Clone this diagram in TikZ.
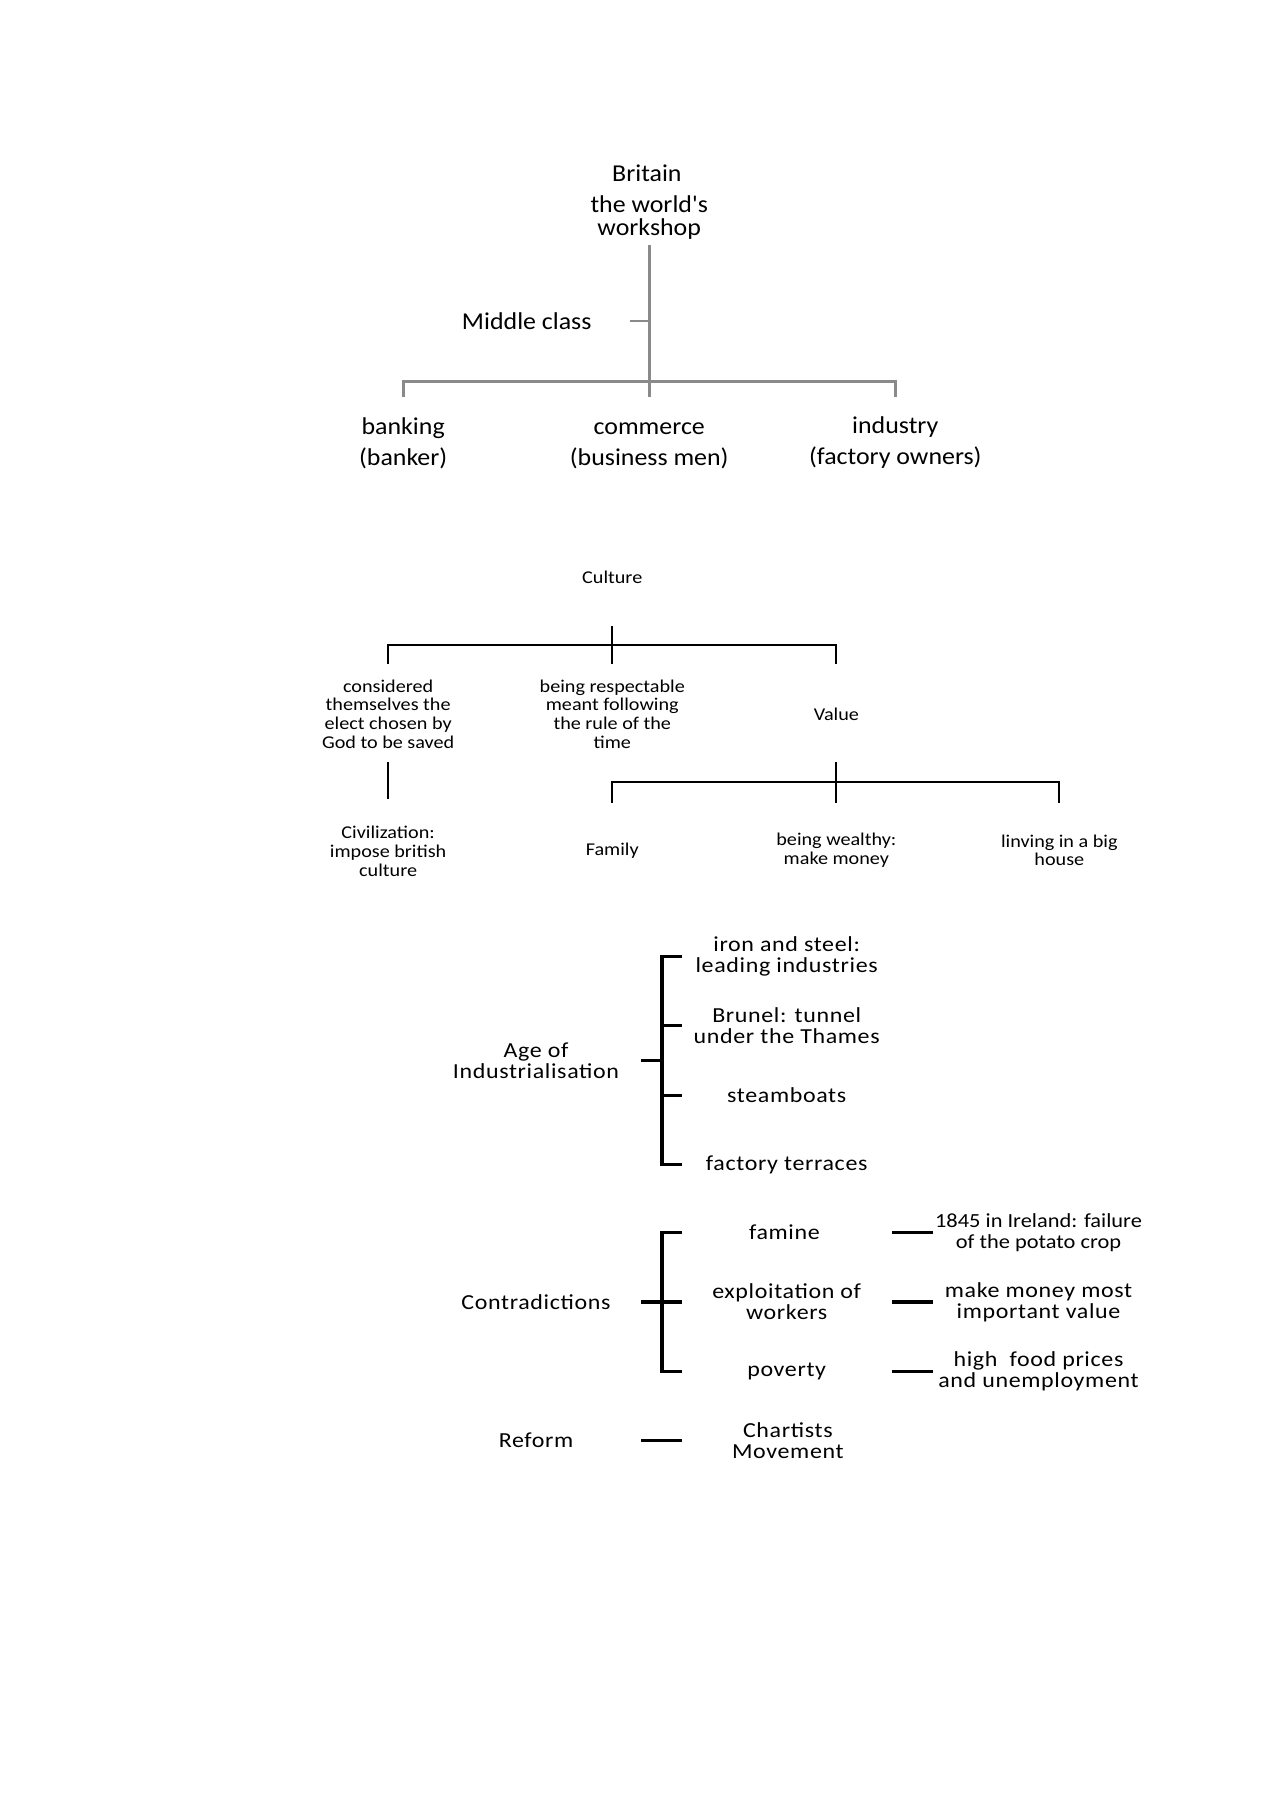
\documentclass[tikz,border=0pt]{standalone}
\usepackage{fontspec}
\setmainfont{Carlito}
\newfontfamily\fontA{Carlito}[FakeStretch=1.07]
\newfontfamily\fontB{Carlito}[FakeStretch=1.12]
\newfontfamily\fontC{Carlito}[FakeStretch=1.12,LetterSpace=3]
\definecolor{gline}{RGB}{138,138,138}
\begin{document}
\begin{tikzpicture}[x=0.57746pt,y=-0.57746pt,
  tA/.style={font=\fontA\fontsize{12.1}{11.6}\selectfont,align=center,inner sep=0pt},
  tB/.style={font=\fontB\fontsize{9}{9.3}\selectfont,align=center,inner sep=0pt},
  tC/.style={font=\fontC\fontsize{10.7}{10.4}\selectfont,align=center,inner sep=0pt},
  tD/.style={font=\fontB\fontsize{10}{10.4}\selectfont,align=center,inner sep=0pt},
  grayline/.style={draw=gline,line width=1.35pt},
  thinline/.style={draw=black,line width=1pt},
  thickline/.style={draw=black,line width=1.6pt}]
\fill[white] (0,0) rectangle (1108.3,1567.7);
\useasboundingbox (0,0) rectangle (1108.3,1567.7);

% ---------- Section 1 ----------
\node[tA] (britain) at (560,150) {Britain};
\node[tA] (world) at (562,188) {the world's\\workshop};
\node[tA] (middle) at (456,278) {Middle class};
\node[tA] (banking) at (349,383) {\vphantom{(}banking\\[4pt](banker)};
\node[tA] (commerce) at (562,383) {\vphantom{(}commerce\\[4pt](business men)};
\node[tA] (industry) at (775,383) {\vphantom{(}industry\\[4pt](factory owners)};
\coordinate (s1top) at (562,212);
\coordinate (s1mid) at (562,278);
\coordinate (s1join) at (562,330);
\draw[grayline] (s1top) -- (s1join) -- (562,344);
\draw[grayline] (545,278) -- (s1mid);
\draw[grayline] (349,344) -- (349,330) -- (775,330) -- (775,344);

% ---------- Section 2 ----------
\node[tB] (culture) at (530,500) {Culture};
\node[tB] (elect) at (336,618) {considered\\themselves the\\elect chosen by\\God to be saved};
\node[tB] (respect) at (530,618) {being respectable\\meant following\\the rule of the\\time};
\node[tB] (value) at (724,618) {Value};
\node[tB] (civil) at (336,737) {Civilization:\\impose british\\culture};
\node[tB] (family) at (530,736) {Family};
\node[tB] (wealthy) at (724,736) {being wealthy:\\make money};
\node[tB] (house) at (917,736) {linving in a big\\house};
\coordinate (c2join) at (530,558);
\draw[thinline] (530,542) -- (c2join) -- (530,575);
\draw[thinline] (336,575) -- (336,558) -- (724,558) -- (724,575);
\draw[thinline] (336,660) -- (336,692);
\coordinate (v2join) at (724,677);
\draw[thinline] (724,660) -- (v2join) -- (724,695);
\draw[thinline] (530,695) -- (530,677) -- (917,677) -- (917,695);

% ---------- Section 3 ----------
\node[tC] (age) at (464,918) {Age of\\Industrialisation};
\node[tC] (iron) at (681,828) {iron and steel:\\leading industries};
\node[tC] (brunel) at (681,888) {Brunel: tunnel\\under the Thames};
\node[tC] (steam) at (681,948) {steamboats};
\node[tC] (terr) at (681,1008) {factory terraces};
\coordinate (a3) at (573,918);
\draw[thickline] (590,828) -- (573,828) -- (573,1008) -- (590,1008);
\draw[thickline] (573,888) -- (590,888);
\draw[thickline] (573,948) -- (590,948);
\draw[thickline] (555,918) -- (a3);

% ---------- Section 4 ----------
\node[tC] (contra) at (464,1127) {Contradictions};
\node[tC] (famine) at (679,1067) {famine};
\node[tC] (exploit) at (681,1127) {exploitation of\\workers};
\node[tC] (poverty) at (681,1187) {poverty};
\node[tD] (ireland) at (899,1067) {1845 in Ireland: failure\\of the potato crop};
\node[tC] (money) at (899,1127) {make money most\\important value};
\node[tC] (prices) at (899,1187) {high\ \ food prices\\and unemployment};
\coordinate (a4) at (573,1127);
\draw[thickline] (590,1067) -- (573,1067) -- (573,1187) -- (590,1187);
\draw[thickline] (573,1127) -- (590,1127);
\draw[thickline] (555,1127) -- (a4);
\draw[thickline] (772,1067) -- (808,1067);
\draw[thickline] (772,1127) -- (808,1127);
\draw[thickline] (772,1187) -- (808,1187);

\node[tC] (reform) at (464,1247) {Reform};
\node[tC] (chart) at (682,1247) {Chartists\\Movement};
\draw[thickline] (555,1247) -- (590,1247);
\end{tikzpicture}
\end{document}
